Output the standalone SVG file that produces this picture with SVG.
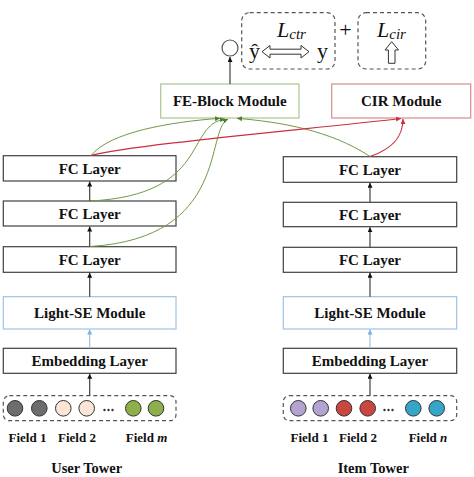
<svg xmlns="http://www.w3.org/2000/svg" width="474" height="477" viewBox="0 0 474 477">
<style>
  .lbl { font-family: "Liberation Serif", "Times New Roman", serif; font-weight: bold; font-size: 15px; fill: #111; text-anchor: middle; }
  .fld { font-family: "Liberation Serif", "Times New Roman", serif; font-weight: bold; font-size: 13px; fill: #111; text-anchor: middle; }
  .twr { font-family: "Liberation Serif", "Times New Roman", serif; font-weight: bold; font-size: 14.5px; fill: #111; text-anchor: middle; }
  .math { font-family: "Liberation Serif", "Times New Roman", serif; font-style: italic; font-size: 22px; fill: #111; }
  .rm { font-family: "Liberation Serif", "Times New Roman", serif; font-size: 22px; fill: #111; }
  .fc { fill: #fff; stroke: #404040; stroke-width: 1.2; }
  .se { fill: #fff; stroke: #9dc3e6; stroke-width: 1.2; }
  .fe { fill: #fff; stroke: #a9c98f; stroke-width: 1.2; }
  .cir { fill: #fff; stroke: #d98a90; stroke-width: 1.2; }
  .dash { fill: none; stroke: #555; stroke-width: 1.2; stroke-dasharray: 4 3; }
  .v { stroke: #404040; stroke-width: 1.2; fill: none; marker-end: url(#ab); }
  .vb { stroke: #9dc3e6; stroke-width: 1.2; fill: none; marker-end: url(#abl); }
  .g { stroke: #6f9a4a; stroke-width: 1; fill: none; marker-end: url(#ag); }
  .r { stroke: #c9303f; stroke-width: 1.2; fill: none; marker-end: url(#ar); }
  .dot { stroke: #333; stroke-width: 1; }
  .outl { fill: #fff; stroke: #333; stroke-width: 1; }
</style>
<defs>
  <marker id="ab" markerUnits="userSpaceOnUse" markerWidth="6" markerHeight="6" refX="5" refY="2.5" orient="auto"><path d="M0,0 L5,2.5 L0,5 z" fill="#111"/></marker>
  <marker id="abl" markerUnits="userSpaceOnUse" markerWidth="6" markerHeight="6" refX="5" refY="2.5" orient="auto"><path d="M0,0 L5,2.5 L0,5 z" fill="#7fb0de"/></marker>
  <marker id="ag" markerUnits="userSpaceOnUse" markerWidth="6" markerHeight="6" refX="5" refY="2.5" orient="auto"><path d="M0,0 L5,2.5 L0,5 z" fill="#4f7f2f"/></marker>
  <marker id="ar" markerUnits="userSpaceOnUse" markerWidth="6" markerHeight="6" refX="5" refY="2.5" orient="auto"><path d="M0,0 L5,2.5 L0,5 z" fill="#c9303f"/></marker>
</defs>

<!-- loss area -->
<g id="loss-ctr">
  <rect class="dash" x="241.7" y="12.7" width="93.3" height="56.3" rx="8"/>
  <text class="math" x="277" y="37">L<tspan font-size="15" dy="2">ctr</tspan></text>
  <text class="rm" x="249" y="58">ŷ</text>
  <polygon class="outl" points="262,51.7 270,45.5 270,49.2 301,49.2 301,45.5 309,51.7 301,58 301,54.2 270,54.2 270,58"/>
  <text class="rm" x="317" y="58">y</text>
</g>
<g id="plus">
  <text class="rm" x="345.5" y="37" text-anchor="middle" font-size="22">+</text>
</g>
<g id="loss-cir">
  <rect class="dash" x="358" y="12.7" width="67.7" height="56.3" rx="8"/>
  <text class="math" x="377" y="37">L<tspan font-size="15" dy="2">cir</tspan></text>
  <polygon class="outl" points="391.7,41.7 398.5,50 395,50 395,63.3 388.4,63.3 388.4,50 385,50"/>
</g>
<g id="output">
  <circle cx="230" cy="48" r="8" fill="#fff" stroke="#555" stroke-width="1.2"/>
</g>

<g id="fe-block">
  <rect class="fe" x="160.7" y="84" width="138.3" height="34"/>
  <text class="lbl" x="229.8" y="106">FE-Block Module</text>
</g>
<g id="cir-module">
  <rect class="cir" x="331.7" y="84" width="139" height="34"/>
  <text class="lbl" x="401.2" y="106">CIR Module</text>
</g>

<!-- user tower -->
<g id="user-fc1"><rect class="fc" x="3.3" y="155.7" width="172.7" height="25.3"/><text class="lbl" x="89.7" y="173.5">FC Layer</text></g>
<g id="user-fc2"><rect class="fc" x="3.3" y="201" width="172.7" height="25"/><text class="lbl" x="89.7" y="218.5">FC Layer</text></g>
<g id="user-fc3"><rect class="fc" x="3.3" y="246.7" width="172.7" height="25.6"/><text class="lbl" x="89.7" y="264.5">FC Layer</text></g>
<g id="user-se"><rect class="se" x="3.3" y="296.7" width="172.7" height="32.3"/><text class="lbl" x="89.7" y="318">Light-SE Module</text></g>
<g id="user-emb"><rect class="fc" x="3.3" y="348.3" width="172.7" height="25"/><text class="lbl" x="89.7" y="366">Embedding Layer</text></g>
<g id="user-fields">
  <rect class="dash" x="3.3" y="395.7" width="172.7" height="25" rx="6"/>
  <circle class="dot" cx="15" cy="408.3" r="7.8" fill="#6d6d6d"/>
  <circle class="dot" cx="39.3" cy="408.3" r="7.8" fill="#6d6d6d"/>
  <circle class="dot" cx="63.3" cy="408.3" r="7.8" fill="#fbe5d6"/>
  <circle class="dot" cx="86.7" cy="408.3" r="7.8" fill="#fbe5d6"/>
  <circle cx="104.5" cy="410" r="1.2" fill="#333"/><circle cx="108.5" cy="410" r="1.2" fill="#333"/><circle cx="112.5" cy="410" r="1.2" fill="#333"/>
  <circle class="dot" cx="133.3" cy="408.3" r="7.8" fill="#8db04a"/>
  <circle class="dot" cx="156" cy="408.3" r="7.8" fill="#8db04a"/>
  <text class="fld" x="27.5" y="441.5">Field 1</text>
  <text class="fld" x="77" y="441.5">Field 2</text>
  <text class="fld" x="146.5" y="441.5">Field <tspan font-style="italic">m</tspan></text>
</g>
<g id="user-title"><text class="twr" x="86.7" y="473">User Tower</text></g>

<!-- item tower -->
<g id="item-fc1"><rect class="fc" x="283.3" y="156.7" width="173.4" height="25.6"/><text class="lbl" x="370" y="174.5">FC Layer</text></g>
<g id="item-fc2"><rect class="fc" x="283.3" y="202.3" width="173.4" height="24.4"/><text class="lbl" x="370" y="219.5">FC Layer</text></g>
<g id="item-fc3"><rect class="fc" x="283.3" y="247.3" width="173.4" height="25"/><text class="lbl" x="370" y="265">FC Layer</text></g>
<g id="item-se"><rect class="se" x="283.3" y="296.7" width="173.4" height="32.3"/><text class="lbl" x="370" y="318">Light-SE Module</text></g>
<g id="item-emb"><rect class="fc" x="283.3" y="348.3" width="173.4" height="25"/><text class="lbl" x="370" y="366">Embedding Layer</text></g>
<g id="item-fields">
  <rect class="dash" x="283.3" y="395.7" width="173.4" height="25" rx="6"/>
  <circle class="dot" cx="298.3" cy="408.3" r="7.8" fill="#b4a2d2"/>
  <circle class="dot" cx="320.7" cy="408.3" r="7.8" fill="#b4a2d2"/>
  <circle class="dot" cx="344" cy="408.3" r="7.8" fill="#c8473f"/>
  <circle class="dot" cx="367.7" cy="408.3" r="7.8" fill="#c8473f"/>
  <circle cx="384.5" cy="410" r="1.2" fill="#333"/><circle cx="388.5" cy="410" r="1.2" fill="#333"/><circle cx="392.5" cy="410" r="1.2" fill="#333"/>
  <circle class="dot" cx="413.3" cy="408.3" r="7.8" fill="#35a6c8"/>
  <circle class="dot" cx="436.7" cy="408.3" r="7.8" fill="#35a6c8"/>
  <text class="fld" x="309.5" y="441.5">Field 1</text>
  <text class="fld" x="358" y="441.5">Field 2</text>
  <text class="fld" x="428" y="441.5">Field <tspan font-style="italic">n</tspan></text>
</g>
<g id="item-title"><text class="twr" x="373.3" y="473">Item Tower</text></g>

<!-- connectors -->
<g id="connectors">
  <line class="v" x1="230" y1="84" x2="230" y2="57"/>
  <line class="v" x1="89.7" y1="201" x2="89.7" y2="181.5"/>
  <line class="v" x1="89.7" y1="246.7" x2="89.7" y2="226.5"/>
  <line class="v" x1="89.7" y1="296.7" x2="89.7" y2="272.8"/>
  <line class="vb" x1="89.7" y1="348.3" x2="89.7" y2="329.5"/>
  <line class="v" x1="89.7" y1="395.7" x2="89.7" y2="373.8"/>
  <line class="v" x1="370" y1="202.3" x2="370" y2="182.8"/>
  <line class="v" x1="370" y1="247.3" x2="370" y2="227.2"/>
  <line class="v" x1="370" y1="296.7" x2="370" y2="272.8"/>
  <line class="vb" x1="370" y1="348.3" x2="370" y2="329.5"/>
  <line class="v" x1="370" y1="395.7" x2="370" y2="373.8"/>
  <path class="g" d="M91,155.5 C110,132 170,122 220,118.3"/>
  <path class="g" d="M90,201 C210,195 185,125 225,119"/>
  <path class="g" d="M90,246.5 C230,238 205,130 228,119"/>
  <path class="g" d="M370,156.5 C330,130 280,122 237,118.3"/>
  <path class="r" d="M91,155.5 C130,145 300,130 401,118.5"/>
  <path class="r" d="M370,156.5 C395,148 403,135 403,119"/>
</g>
</svg>
